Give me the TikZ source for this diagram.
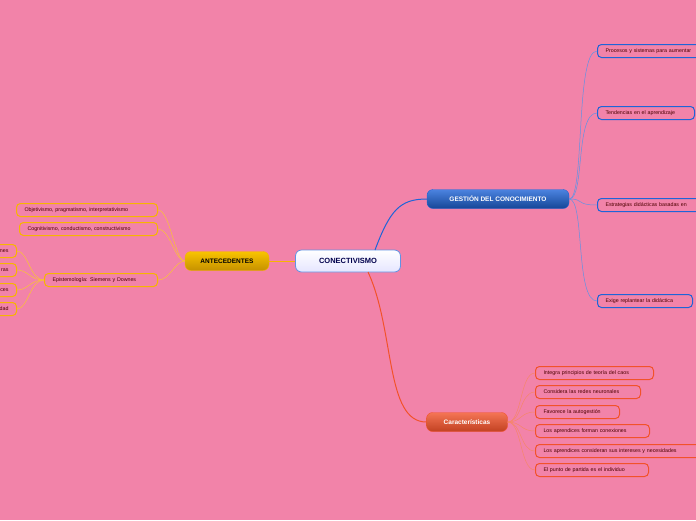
\documentclass[tikz,border=0pt]{standalone}
\usepackage{fontspec}
\setmainfont{Liberation Sans}
\begin{document}
\begin{tikzpicture}[x=1pt,y=-1pt,
  leaf/.style 2 args={draw=#1,line width=1pt,rounded corners=4pt,fill=bgp,minimum height=13pt,inner xsep=8pt,inner ysep=0pt,text width=#2pt-16pt,align=left,font=\fontsize{5.3}{6}\selectfont,text=black!70!red,anchor=west},
  main/.style={rounded corners=6pt,minimum height=19pt,font=\fontsize{6.5}{7}\selectfont\bfseries,inner ysep=0pt},
  conn/.style={draw=#1,line width=0.5pt}]
\definecolor{bgp}{HTML}{F283A9}
\definecolor{ora}{HTML}{F7B500}
\definecolor{blu}{HTML}{1E64D8}
\definecolor{red2}{HTML}{F2522A}
\fill[bgp] (0,0) rectangle (696,520);
\useasboundingbox (0,0) rectangle (696,520);
\clip (0,0) rectangle (696,520);
% main nodes
\node[main,draw=blu!70,line width=0.8pt,top color=white,bottom color=blue!10,minimum width=105pt,minimum height=22pt,text=blue!30!black,font=\fontsize{7.5}{8}\selectfont\bfseries] (c) at (348,261) {CONECTIVISMO};
\node[main,top color=ora!80!yellow,bottom color=ora!80!black,draw=ora,minimum width=84pt,text=black] (a) at (227,261) {ANTECEDENTES};
\node[main,top color=blu!80!white,bottom color=blu!70!black,draw=blu,minimum width=142pt,text=white] (g) at (498,199) {GESTIÓN DEL CONOCIMIENTO};
\node[main,top color=red2!80!white,bottom color=red2!80!black,draw=red2,minimum width=81pt,text=white] (k) at (467,422) {Características};
\draw[conn=blu,line width=1pt] (375,250) .. controls (390,210) and (400,199) .. (g.west);
\draw[conn=red2,line width=1pt] (368,272) .. controls (395,330) and (385,422) .. (k.west);
\draw[conn=ora,line width=1pt] (c.west) -- (a.east);
% antecedentes children
\node[leaf={ora}{141}] (a1) at (16,210) {Objetivismo, pragmatismo, interpretativismo};
\node[leaf={ora}{138}] (a2) at (19,229) {Cognitivismo, conductismo, constructivismo};
\node[leaf={ora}{113}] (a3) at (44,280) {Epistemología: Siemens y Downes};
\foreach \n in {a1,a2,a3} \draw[conn=ora!80] (a.west) .. controls (175,261) and (170,0 |- \n.east) .. (\n.east);
\foreach \y/\t/\m in {251/nes/b1,270/ras/b2,290/ces/b3,309/dad/b4} {
  \node[leaf={ora}{40},anchor=east,align=right] (\m) at (17,\y) {\t};
  \draw[conn=ora!80] (a3.west) .. controls (30,280) and (28,\y) .. (\m.east);
}
% gestion children
\node[leaf={blu}{130}] (g1) at (597,51) {Procesos y sistemas para aumentar};
\node[leaf={blu}{97}] (g2) at (597,113) {Tendencias en el aprendizaje};
\node[leaf={blu}{130}] (g3) at (597,205) {Estrategias didácticas basadas en};
\node[leaf={blu}{95}] (g4) at (597,301) {Exige replantear la didáctica};
\foreach \n in {g1,g2,g3,g4} \draw[conn=blu!70] (g.east) .. controls (585,199) and (575,0 |- \n.west) .. (\n.west);
% caracteristicas children
\node[leaf={red2}{118}] (k1) at (535,373) {Integra principios de teoría del caos};
\node[leaf={red2}{105}] (k2) at (535,392) {Considera las redes neuronales};
\node[leaf={red2}{84}] (k3) at (535,412) {Favorece la autogestión};
\node[leaf={red2}{114}] (k4) at (535,431) {Los aprendices forman conexiones};
\node[leaf={red2}{175}] (k5) at (535,451) {Los aprendices consideran sus intereses y necesidades};
\node[leaf={red2}{113}] (k6) at (535,470) {El punto de partida es el individuo};
\foreach \n in {k1,k2,k3,k4,k5,k6} \draw[conn=red2!70] (k.east) .. controls (522,422) and (520,0 |- \n.west) .. (\n.west);
\end{tikzpicture}
\end{document}
